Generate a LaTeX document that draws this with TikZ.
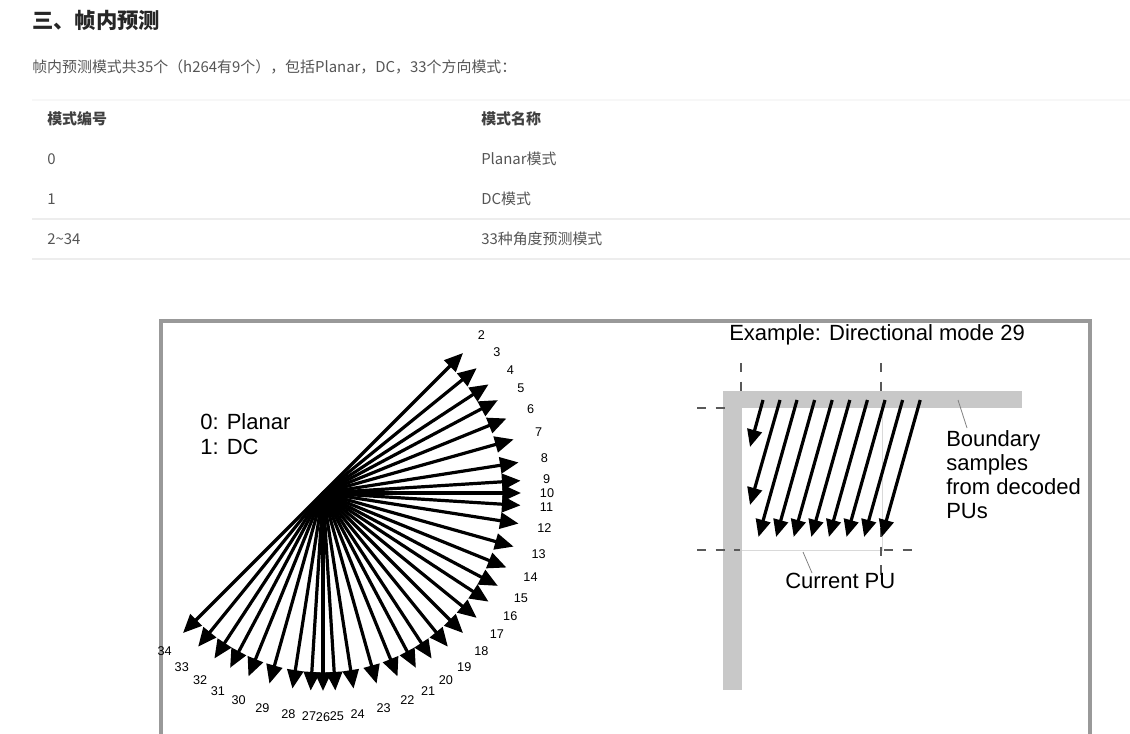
\documentclass[tikz,border=0pt]{standalone}
\usepackage{fontspec}
\setmainfont{Liberation Sans}
\newfontfamily\cjk{Noto Sans CJK SC}
\usetikzlibrary{arrows.meta,calc}
\definecolor{txt}{HTML}{555555}
\definecolor{bar}{HTML}{C8C8C8}
\tikzset{
  title/.style={anchor=west,inner sep=0,font=\cjk\bfseries\fontsize{16}{18}\selectfont,text=black!85},
  body/.style={anchor=west,inner sep=0,font=\cjk\fontsize{11.2}{13}\selectfont,text=txt},
  head/.style={anchor=west,inner sep=0,font=\cjk\bfseries\fontsize{11.2}{13}\selectfont,text=black!75},
  fanarrow/.style={line width=2.4pt,-{Triangle[length=14pt,width=12pt]}},
  puarrow/.style={line width=2.4pt,-{Triangle[length=13pt,width=11pt]}},
  num/.style={inner sep=0,font=\fontsize{9.5}{10}\selectfont},
  big/.style={anchor=west,inner sep=0,font=\fontsize{16.5}{18}\selectfont},
  dsh/.style={gray!70!black,line width=0.8pt,dash pattern=on 7pt off 7pt},
}
\begin{document}
\begin{tikzpicture}[x=0.75pt,y=-0.75pt]
\useasboundingbox (0,0) rectangle (1130,734);
% header text
\node[title] (t) at (32,20) {三、帧内预测};
\node[body] (p) at (32,67) {帧内预测模式共35个（h264有9个），包括Planar，DC，33个方向模式：};
\draw[black!3,line width=1pt] (32,100) -- (1130,100);
\draw[black!7,line width=1pt] (32,219) -- (1130,219);
\draw[black!7,line width=1pt] (32,259) -- (1130,259);
\node[head] (h1) at (47,119) {模式编号};
\node[head] (h2) at (481,119) {模式名称};
\node[body] (a1) at (47,159) {0};
\node[body] (b1) at (481,159) {Planar模式};
\node[body] (a2) at (47,199) {1};
\node[body] (b2) at (481,199) {DC模式};
\node[body] (a3) at (47,239) {2\textasciitilde 34};
\node[body] (b3) at (481,239) {33种角度预测模式};
% frame
\draw[gray!80,line width=2.6pt] (161,740) -- (161,321) -- (1090,321) -- (1090,740);
% fan
\coordinate (c) at (323,493);
\foreach \d [count=\i from 2] in {32,26,21,17,13,9,5,2,0,-2,-5,-9,-13,-17,-21,-26,-32}{
  \pgfmathsetmacro\ang{atan2(-\d,32)}
  \coordinate (m\i) at ($(c)+(\ang:198)$);
  \draw[fanarrow] (c) -- (m\i);
  \node[num] (l\i) at ($(c)+(\ang:224)$) {\i};
}
\foreach \a [count=\i from 19] in {-26,-21,-17,-13,-9,-5,-2,0,2,5,9,13,17,21,26,32}{
  \pgfmathsetmacro\ang{atan2(32,-\a)}
  \coordinate (m\i) at ($(c)+(\ang:198)$);
  \draw[fanarrow] (c) -- (m\i);
  \node[num] (l\i) at ($(c)+(\ang:224)$) {\i};
}
\node[big] (pl) at (200,422) {0: Planar};
\node[big] (dc) at (200,447) {1: DC};
% right example
\node[big] (ex) at (729,335) {Example: Directional mode 29};
\fill[bar] (723,391) rectangle (1022,408);
\fill[bar] (723,391) rectangle (742,690);
\draw[black!15,line width=0.6pt] (742,550) -- (882,550) -- (882,408);
\draw[dsh] (741,363) -- (741,395);
\draw[dsh] (881,363) -- (881,395);
\draw[dsh] (881,528) -- (881,578);
\draw[dsh] (697,408) -- (727,408);
\draw[dsh] (697,550) -- (740,550);
\draw[dsh] (884,550) -- (918,550);
\coordinate (s1) at (763,400); \coordinate (e1) at (750,447);
\coordinate (s2) at (780,400); \coordinate (e2) at (750,505);
\draw[puarrow] (s1) -- (e1);
\draw[puarrow] (s2) -- (e2);
\foreach \k in {0,...,7}{
  \coordinate (s\k x) at ({797+17.6*\k},400);
  \coordinate (e\k x) at ({797+17.6*\k-38.5},537);
  \draw[puarrow] (s\k x) -- (e\k x);
}
\node[big,align=left,anchor=north west] (bd) at (946,430) {Boundary\\samples\\from decoded\\PUs};
\draw[gray,line width=0.6pt] (958,400) -- (967,428);
\node[big] (cp) at (785,581) {Current PU};
\draw[gray,line width=0.6pt] (803,552) -- (812,573);
\end{tikzpicture}
\end{document}
